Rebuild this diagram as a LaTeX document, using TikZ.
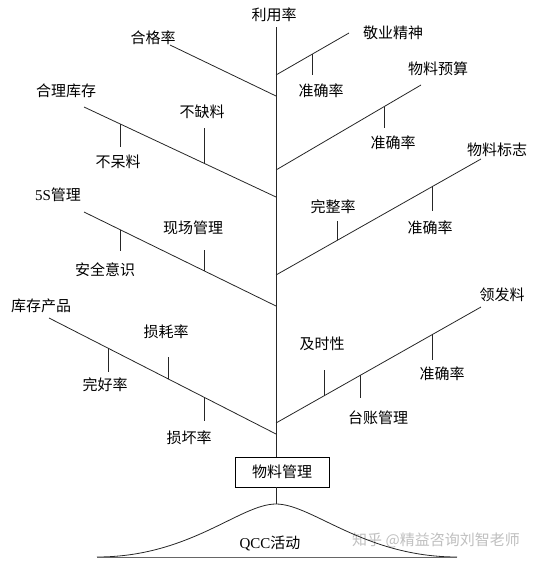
\documentclass[tikz,border=0pt]{standalone}
\usepackage{fontspec}
\setmainfont{Liberation Serif}
\newfontfamily\cjk{Noto Sans CJK SC}
\usetikzlibrary{calc}
\tikzset{
  lbl/.style={inner sep=0pt, font=\cjk\fontsize{15}{18}\selectfont},
  ln/.style={draw=black!85, line width=0.8pt},
  box/.style={draw=black, line width=0.8pt, minimum width=94pt, minimum height=30pt, inner sep=0pt, font=\cjk\fontsize{15}{18}\selectfont},
  wm/.style={inner sep=0pt, text=black!25, font=\cjk\fontsize{15}{18}\selectfont}
}
\begin{document}
\begin{tikzpicture}[x=1pt,y=-1pt]
\useasboundingbox (0,0) rectangle (540,562);
% labels
\node[lbl] (top) at (274,15) {利用率};
\node[lbl] at (153,38) {合格率};
\node[lbl] at (66,91) {合理库存};
\node[lbl] at (118,162) {不呆料};
\node[lbl] at (202,112) {不缺料};
\node[lbl] at (58,195) {\rmfamily 5S\cjk 管理};
\node[lbl] at (105,270) {安全意识};
\node[lbl] at (193,228) {现场管理};
\node[lbl] at (41,306) {库存产品};
\node[lbl] at (105,385) {完好率};
\node[lbl] at (166,332) {损耗率};
\node[lbl] at (189,438) {损坏率};
\node[lbl] at (393,33) {敬业精神};
\node[lbl] at (321,91) {准确率};
\node[lbl] at (438,69) {物料预算};
\node[lbl] at (393,143) {准确率};
\node[lbl] at (497,150) {物料标志};
\node[lbl] at (333,207) {完整率};
\node[lbl] at (430,228) {准确率};
\node[lbl] at (502,295) {领发料};
\node[lbl] at (322,344) {及时性};
\node[lbl] at (442,374) {准确率};
\node[lbl] at (378,418) {台账管理};
\node[box] (mgmt) at (282,472) {物料管理};
\node[lbl] (qcc) at (270,543) {\rmfamily QCC\cjk 活动};
\node[wm] (wmk) at (436,540) {知乎 @精益咨询刘智老师};
% trunk
\coordinate (T0) at (276,27);
\coordinate (T1) at (276,457);
\coordinate (T2) at (276,487);
\coordinate (peak) at (276,504);
\draw[ln] (T0) -- (T1);
\draw[ln] (T2) -- (peak);
% left branches
\coordinate (L1s) at (170,45);  \coordinate (L1e) at (276,96);
\coordinate (L2s) at (84,107);  \coordinate (L2e) at (276,197);
\coordinate (L3s) at (84,212);  \coordinate (L3e) at (276,306);
\coordinate (L4s) at (49,318);  \coordinate (L4e) at (276,434);
\draw[ln] (L1s) -- (L1e);
\draw[ln] (L2s) -- (L2e);
\draw[ln] (L3s) -- (L3e);
\draw[ln] (L4s) -- (L4e);
% right branches
\coordinate (R1s) at (276,75);  \coordinate (R1e) at (349,33);
\coordinate (R2s) at (276,170); \coordinate (R2e) at (421,85);
\coordinate (R3s) at (276,275); \coordinate (R3e) at (481,159);
\coordinate (R4s) at (276,423); \coordinate (R4e) at (481,307);
\draw[ln] (R1s) -- (R1e);
\draw[ln] (R2s) -- (R2e);
\draw[ln] (R3s) -- (R3e);
\draw[ln] (R4s) -- (R4e);
% ticks
\draw[ln] ($(L2s)!0.1875!(L2e)$) -- ++(0,23);
\draw[ln] ($(L2s)!0.625!(L2e)$) -- ++(0,-35);
\draw[ln] ($(L3s)!0.1875!(L3e)$) -- ++(0,21);
\draw[ln] ($(L3s)!0.625!(L3e)$) -- ++(0,-21);
\draw[ln] ($(L4s)!0.26!(L4e)$) -- ++(0,24);
\draw[ln] ($(L4s)!0.524!(L4e)$) -- ++(0,-22);
\draw[ln] ($(L4s)!0.683!(L4e)$) -- ++(0,24);
\draw[ln] ($(R1s)!0.493!(R1e)$) -- ++(0,21);
\draw[ln] ($(R2s)!0.745!(R2e)$) -- ++(0,21);
\draw[ln] ($(R3s)!0.2976!(R3e)$) -- ++(0,-19);
\draw[ln] ($(R3s)!0.761!(R3e)$) -- ++(0,24);
\draw[ln] ($(R4s)!0.234!(R4e)$) -- ++(0,-26);
\draw[ln] ($(R4s)!0.41!(R4e)$) -- ++(0,23);
\draw[ln] ($(R4s)!0.761!(R4e)$) -- ++(0,25);
% bell
\coordinate (B0) at (97,557);
\coordinate (B1) at (457,557);
\draw[ln] (B0) .. controls (190,557) and (240,504) .. (peak)
  .. controls (312,504) and (364,557) .. (B1);
\draw[draw=black!60, line width=1pt] (B0) -- (B1);
\end{tikzpicture}
\end{document}
